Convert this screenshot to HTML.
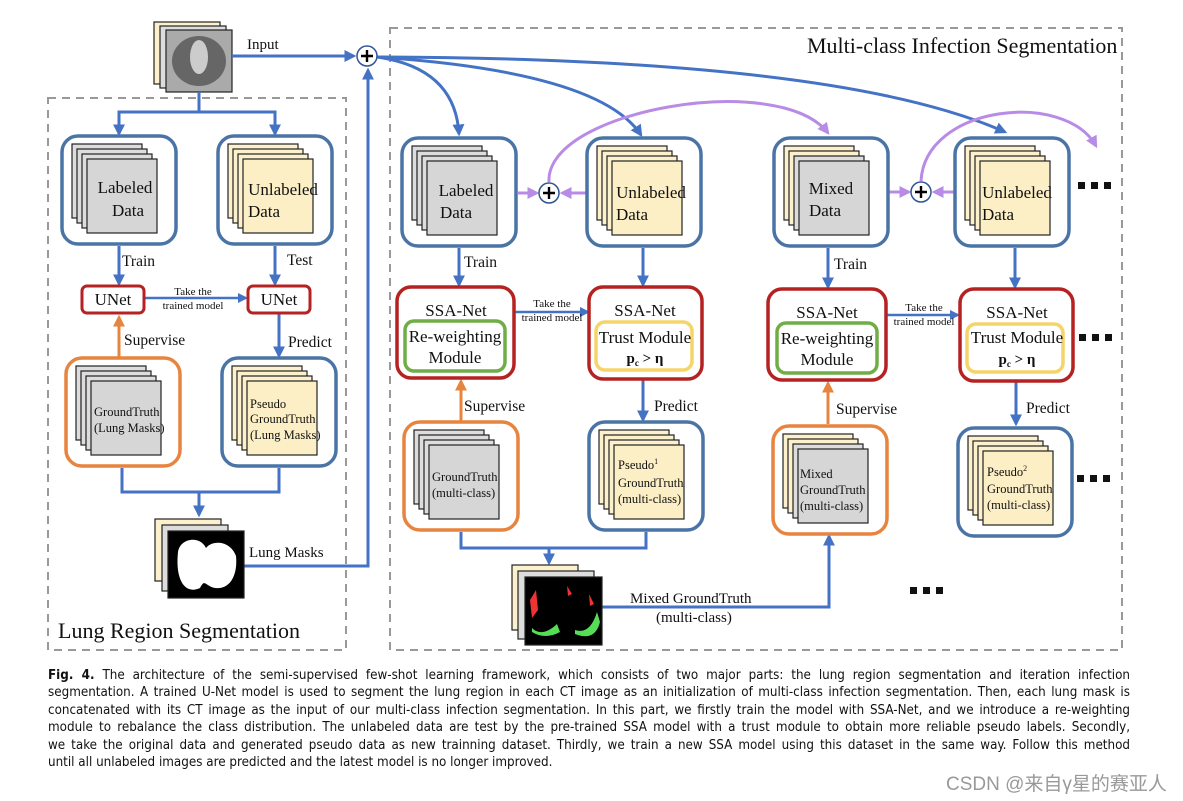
<!DOCTYPE html>
<html><head><meta charset="utf-8"><style>
body{margin:0;background:#fff;width:1183px;height:801px;overflow:hidden;position:relative}
svg{position:absolute;left:0;top:0}
.cap{position:absolute;left:48px;width:1082px;font:13.3px "DejaVu Sans Condensed","Liberation Sans",sans-serif;color:#111;text-align:justify;text-align-last:justify;white-space:nowrap;}
.cap span{display:block;height:17.4px;white-space:normal}
text{font-family:"Liberation Serif",serif;fill:#111}
</style></head><body>
<svg width="1183" height="801" viewBox="0 0 1183 801">
<defs>
<marker id="ab" viewBox="0 0 10 10" refX="8" refY="5" markerWidth="4" markerHeight="4" orient="auto"><path d="M0,0L10,5L0,10z" fill="#4472c4"/></marker>
<marker id="ao" viewBox="0 0 10 10" refX="8" refY="5" markerWidth="4" markerHeight="4" orient="auto"><path d="M0,0L10,5L0,10z" fill="#e7843f"/></marker>
<marker id="ap" viewBox="0 0 10 10" refX="8" refY="5" markerWidth="4" markerHeight="4" orient="auto"><path d="M0,0L10,5L0,10z" fill="#b88ce6"/></marker>
<g id="sg" stroke="#222" stroke-width="1.2"><rect x="0" y="0" width="70" height="74" fill="#ddd"/><rect x="5" y="5" width="70" height="74" fill="#ddd"/><rect x="10" y="10" width="70" height="74" fill="#ddd"/><rect x="15" y="15" width="70" height="74" fill="#d6d6d6"/></g>
<g id="sy" stroke="#222" stroke-width="1.2"><rect x="0" y="0" width="70" height="74" fill="#fcf1cc"/><rect x="5" y="5" width="70" height="74" fill="#fcf1cc"/><rect x="10" y="10" width="70" height="74" fill="#fcf1cc"/><rect x="15" y="15" width="70" height="74" fill="#fcefc6"/></g>
<g id="sm" stroke="#222" stroke-width="1.2"><rect x="0" y="0" width="70" height="74" fill="#fcf1cc"/><rect x="5" y="5" width="70" height="74" fill="#fcf1cc"/><rect x="10" y="10" width="70" height="74" fill="#ddd"/><rect x="15" y="15" width="70" height="74" fill="#d6d6d6"/></g>
</defs>
<g fill="none" stroke="#999" stroke-width="2" stroke-dasharray="8,6">
<rect x="48" y="98" width="298" height="552"/>
<rect x="390" y="28" width="732" height="622"/>
</g>
<text x="807" y="53" font-size="22">Multi-class Infection Segmentation</text>
<text x="58" y="638" font-size="22">Lung Region Segmentation</text>
<g stroke="#222" stroke-width="1.2"><rect x="154" y="22" width="66" height="62" fill="#fcf1cc"/><rect x="160" y="26" width="66" height="62" fill="#ddd"/><rect x="166" y="30" width="66" height="62" fill="#aaa"/></g>
<ellipse cx="199" cy="61" rx="27" ry="25" fill="#666"/><ellipse cx="199" cy="57" rx="9" ry="17" fill="#ccc"/>
<text x="247" y="49" font-size="15">Input</text>
<g fill="none" stroke="#4472c4" stroke-width="3">
<path d="M232,56H354" marker-end="url(#ab)"/>
<path d="M377,57Q455,68 459,134" marker-end="url(#ab)"/>
<path d="M377,57Q600,72 641,135" marker-end="url(#ab)"/>
<path d="M377,57C700,58 900,85 1005,132" marker-end="url(#ab)"/>
<path d="M199,92V112H119V134" marker-end="url(#ab)"/>
<path d="M199,112H275V134" marker-end="url(#ab)"/>
<path d="M119,246V284" marker-end="url(#ab)"/>
<path d="M275,246V284" marker-end="url(#ab)"/>
<path d="M145,298H246" stroke-width="2.5" marker-end="url(#ab)"/>
<path d="M279,314V356" marker-end="url(#ab)"/>
<path d="M122,468V492H279V468M199,492V515" marker-end="url(#ab)"/>
<path d="M244,566H368V70" marker-end="url(#ab)"/>
<path d="M459,248V285" marker-end="url(#ab)"/>
<path d="M643,248V285" marker-end="url(#ab)"/>
<path d="M515,312H588" stroke-width="2.5" marker-end="url(#ab)"/>
<path d="M643,380V420" marker-end="url(#ab)"/>
<path d="M461,532V548H646V532M549,548V563" marker-end="url(#ab)"/>
<path d="M602,607H829V536" marker-end="url(#ab)"/>
<path d="M828,248V287" marker-end="url(#ab)"/>
<path d="M1015,248V287" marker-end="url(#ab)"/>
<path d="M887,315H958" stroke-width="2.5" marker-end="url(#ab)"/>
<path d="M1016,382V424" marker-end="url(#ab)"/>
</g>
<g fill="none" stroke="#e7843f" stroke-width="3">
<path d="M119,358V317" marker-end="url(#ao)"/>
<path d="M461,422V381" marker-end="url(#ao)"/>
<path d="M828,424V383" marker-end="url(#ao)"/>
</g>
<g fill="none" stroke="#b88ce6" stroke-width="3">
<path d="M518,193H537" marker-end="url(#ap)"/>
<path d="M586,193H562" marker-end="url(#ap)"/>
<path d="M549,182C545,110 780,70 828,133" marker-end="url(#ap)"/>
<path d="M889,192H909" marker-end="url(#ap)"/>
<path d="M954,192H934" marker-end="url(#ap)"/>
<path d="M921,181C925,105 1065,90 1096,146" marker-end="url(#ap)"/>
</g>
<g fill="#fff" stroke="#2f5597" stroke-width="1.5"><circle cx="367" cy="56" r="10"/><circle cx="549" cy="193" r="10"/><circle cx="921" cy="192" r="10"/></g>
<g stroke="#000" stroke-width="2.4"><path d="M361,56h12M367,50v12M543,193h12M549,187v12M915,192h12M921,186v12"/></g>
<g fill="#fff" stroke-width="3.5">
<rect x="62" y="136" width="114" height="108" rx="16" stroke="#4a74a6"/>
<rect x="218" y="136" width="114" height="108" rx="16" stroke="#4a74a6"/>
<rect x="66" y="358" width="114" height="108" rx="16" stroke="#e7843f"/>
<rect x="222" y="358" width="114" height="108" rx="16" stroke="#4a74a6"/>
<rect x="402" y="138" width="114" height="108" rx="16" stroke="#4a74a6"/>
<rect x="587" y="138" width="114" height="108" rx="16" stroke="#4a74a6"/>
<rect x="404" y="422" width="114" height="108" rx="16" stroke="#e7843f"/>
<rect x="589" y="422" width="114" height="108" rx="16" stroke="#4a74a6"/>
<rect x="774" y="138" width="114" height="108" rx="16" stroke="#4a74a6"/>
<rect x="955" y="138" width="114" height="108" rx="16" stroke="#4a74a6"/>
<rect x="773" y="426" width="114" height="108" rx="16" stroke="#e7843f"/>
<rect x="958" y="428" width="114" height="108" rx="16" stroke="#4a74a6"/>
<rect x="82" y="286" width="62" height="27" rx="5" stroke="#b52222" stroke-width="3"/>
<rect x="248" y="286" width="62" height="27" rx="5" stroke="#b52222" stroke-width="3"/>
<rect x="397" y="287" width="117" height="91" rx="14" stroke="#b52222"/>
<rect x="589" y="287" width="113" height="92" rx="14" stroke="#b52222"/>
<rect x="768" y="289" width="118" height="91" rx="14" stroke="#b52222"/>
<rect x="960" y="289" width="113" height="92" rx="14" stroke="#b52222"/>
<rect x="405" y="321" width="100" height="50" rx="9" stroke="#70ad47"/>
<rect x="596" y="322" width="96" height="48" rx="9" stroke="#f5d46a"/>
<rect x="777" y="323" width="100" height="50" rx="9" stroke="#70ad47"/>
<rect x="967" y="324" width="96" height="48" rx="9" stroke="#f5d46a"/>
</g>
<use href="#sg" x="72" y="144"/><use href="#sy" x="228" y="144"/>
<use href="#sg" x="76" y="366"/><use href="#sy" x="232" y="366"/>
<use href="#sg" x="412" y="146"/><use href="#sy" x="597" y="146"/>
<use href="#sg" x="414" y="430"/><use href="#sy" x="599" y="430"/>
<use href="#sm" x="784" y="146"/><use href="#sy" x="965" y="146"/>
<use href="#sm" x="783" y="434"/><use href="#sy" x="968" y="436"/>
<g stroke="#222" stroke-width="1.2"><rect x="155" y="519" width="66" height="62" fill="#fcf1cc"/><rect x="162" y="525" width="66" height="66" fill="#ddd"/><rect x="168" y="531" width="76" height="67" fill="#000"/></g>
<path d="M178,552C180,538 200,535 206,548C212,540 230,540 236,556C238,575 230,590 215,588C205,586 205,578 200,588C185,595 175,580 178,552z" fill="#fff"/>
<text x="249" y="557" font-size="15">Lung Masks</text>
<g stroke="#222" stroke-width="1.2"><rect x="512" y="565" width="66" height="65" fill="#fcf1cc"/><rect x="518" y="571" width="76" height="68" fill="#ddd"/><rect x="525" y="577" width="77" height="68" fill="#000"/></g>
<path d="M530,600l6,-10l2,20l-6,8z M567,586l5,8l-4,2z M589,594l5,10l-4,2z" fill="#e33"/>
<path d="M532,628q10,10 25,-4l3,8q-15,8 -28,0z M575,630q15,5 22,-18l3,10q-5,20 -25,12z" fill="#5d5"/>
<text x="630" y="603" font-size="15">Mixed GroundTruth</text>
<text x="656" y="622" font-size="15">(multi-class)</text>
<g font-size="17" text-anchor="middle">
<text x="125" y="193">Labeled</text><text x="128" y="216">Data</text>
<text x="283" y="195">Unlabeled</text><text x="264" y="217">Data</text>
<text x="466" y="196">Labeled</text><text x="456" y="218">Data</text>
<text x="651" y="198">Unlabeled</text><text x="632" y="220">Data</text>
<text x="831" y="194">Mixed</text><text x="825" y="216">Data</text>
<text x="1017" y="198">Unlabeled</text><text x="998" y="220">Data</text>
<text x="113" y="305">UNet</text><text x="279" y="305">UNet</text>
<text x="456" y="316">SSA-Net</text><text x="455" y="342">Re-weighting</text><text x="455" y="363">Module</text>
<text x="645" y="316">SSA-Net</text><text x="645" y="343">Trust Module</text>
<text x="827" y="318">SSA-Net</text><text x="827" y="344">Re-weighting</text><text x="827" y="365">Module</text>
<text x="1017" y="318">SSA-Net</text><text x="1017" y="343">Trust Module</text>
</g>
<g font-size="15" font-weight="bold" text-anchor="middle"><text x="645" y="363">p<tspan font-size="9" dy="3">c</tspan><tspan dy="-3"> &gt; η</tspan></text><text x="1017" y="364">p<tspan font-size="9" dy="3">c</tspan><tspan dy="-3"> &gt; η</tspan></text></g>
<g font-size="15.5">
<text x="122" y="266">Train</text><text x="287" y="265">Test</text>
<text x="124" y="345">Supervise</text><text x="288" y="347">Predict</text>
<text x="464" y="267">Train</text><text x="464" y="411">Supervise</text><text x="654" y="411">Predict</text>
<text x="834" y="269">Train</text><text x="836" y="414">Supervise</text><text x="1026" y="413">Predict</text>
</g>
<g font-size="11" text-anchor="middle">
<text x="193" y="295">Take the</text><text x="193" y="309">trained model</text>
<text x="552" y="307">Take the</text><text x="552" y="321">trained model</text>
<text x="924" y="311">Take the</text><text x="924" y="325">trained model</text>
</g>
<g font-size="12.5">
<text x="94" y="416">GroundTruth</text><text x="94" y="432">(Lung Masks)</text>
<text x="250" y="408">Pseudo</text><text x="250" y="423">GroundTruth</text><text x="250" y="439">(Lung Masks)</text>
<text x="432" y="481">GroundTruth</text><text x="432" y="497">(multi-class)</text>
<text x="618" y="469">Pseudo<tspan font-size="8" dy="-5">1</tspan></text><text x="618" y="487">GroundTruth</text><text x="618" y="503">(multi-class)</text>
<text x="800" y="478">Mixed</text><text x="800" y="494">GroundTruth</text><text x="800" y="510">(multi-class)</text>
<text x="987" y="476">Pseudo<tspan font-size="8" dy="-5">2</tspan></text><text x="987" y="493">GroundTruth</text><text x="987" y="509">(multi-class)</text>
</g>
<g fill="#111">
<rect x="1078" y="182" width="7" height="7"/><rect x="1091" y="182" width="7" height="7"/><rect x="1104" y="182" width="7" height="7"/>
<rect x="1079" y="334" width="7" height="7"/><rect x="1092" y="334" width="7" height="7"/><rect x="1105" y="334" width="7" height="7"/>
<rect x="1077" y="475" width="7" height="7"/><rect x="1090" y="475" width="7" height="7"/><rect x="1103" y="475" width="7" height="7"/>
<rect x="910" y="587" width="7" height="7"/><rect x="923" y="587" width="7" height="7"/><rect x="936" y="587" width="7" height="7"/>
</g>
</svg>
<div class="cap" style="top:668px">
<span><b>Fig. 4.</b> The architecture of the semi-supervised few-shot learning framework, which consists of two major parts: the lung region segmentation and iteration infection</span>
<span>segmentation. A trained U-Net model is used to segment the lung region in each CT image as an initialization of multi-class infection segmentation. Then, each lung mask is</span>
<span>concatenated with its CT image as the input of our multi-class infection segmentation. In this part, we firstly train the model with SSA-Net, and we introduce a re-weighting</span>
<span>module to rebalance the class distribution. The unlabeled data are test by the pre-trained SSA model with a trust module to obtain more reliable pseudo labels. Secondly,</span>
<span>we take the original data and generated pseudo data as new trainning dataset. Thirdly, we train a new SSA model using this dataset in the same way. Follow this method</span>
<span style="text-align-last:left">until all unlabeled images are predicted and the latest model is no longer improved.</span>
</div>
<div style="position:absolute;left:946px;top:769px;font:19px 'Liberation Sans','Noto Sans CJK SC',sans-serif;color:#999">CSDN @来自γ星的赛亚人</div>
</body></html>
